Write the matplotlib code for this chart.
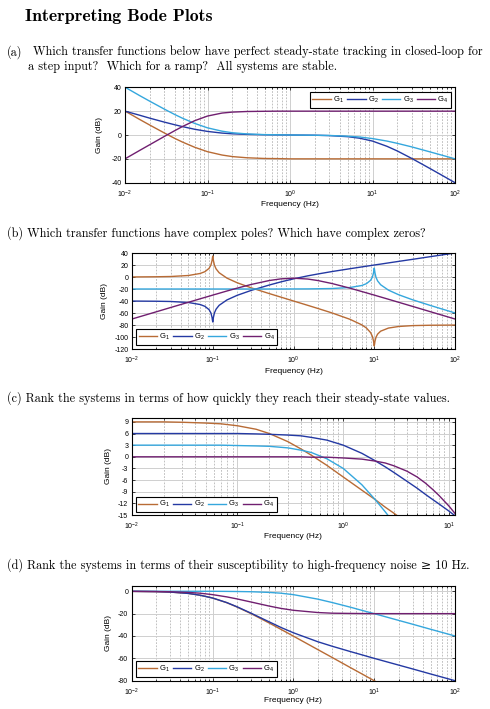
import matplotlib
matplotlib.use("Agg")
import numpy as np
import matplotlib.pyplot as plt
from matplotlib.ticker import LogLocator, NullFormatter

plt.rcParams['font.family'] = 'Liberation Sans'
plt.rcParams['axes.unicode_minus'] = False

# ---- (a) gain curves (dB) ----
f_a = [0.01, 0.015, 0.02, 0.03, 0.04, 0.05, 0.07, 0.1, 0.15, 0.2, 0.3, 0.5, 0.7,
       1, 2, 3, 5, 7, 10, 15, 20, 30, 50, 70, 100]
a_G1 = [20.1, 13.1, 8.3, 1.7, -2.8, -6.0, -10.3, -14.0, -16.8, -18.1, -19.1, -19.7, -19.8,
        -20.0, -20.0, -20.0, -20.0, -20.0, -20.0, -20.0, -20.0, -20.0, -20.0, -20.0, -20.0]
a_G2 = [20.0, 16.6, 14.1, 10.8, 8.6, 7.0, 4.8, 3.0, 1.6, 1.0, 0.5, 0.2, 0.1,
        0.0, -0.2, -0.5, -1.4, -2.7, -5.1, -9.5, -13.4, -19.7, -28.2, -33.9, -40.0]
a_G3 = [40.1, 33.1, 28.3, 21.7, 17.2, 14.0, 9.7, 6.0, 3.2, 1.9, 0.9, 0.3, 0.2,
        0.0, -0.2, -0.4, -1.0, -1.7, -3.0, -5.1, -7.0, -10.0, -14.2, -17.0, -20.0]
a_G4 = [-20.0, -13.0, -8.1, -1.2, 3.6, 7.2, 12.0, 15.9, 18.4, 19.2, 19.7, 19.9, 20.0,
        20.0, 20.0, 20.0, 20.0, 20.0, 20.0, 20.0, 20.0, 20.0, 20.0, 20.0, 20.0]

# ---- (b) ----
f_b = [0.01, 0.02, 0.03, 0.05, 0.07, 0.08, 0.09, 0.095, 0.098, 0.099, 0.1, 0.101, 0.102,
       0.105, 0.11, 0.12, 0.15, 0.2, 0.3, 0.5, 0.7, 1, 1.5, 2, 3, 5, 7, 8, 9, 9.5, 9.8,
       9.9, 10, 10.1, 10.2, 10.5, 11, 12, 15, 20, 30, 50, 100]
b_G1 = [0.1, 0.4, 0.8, 2.5, 5.9, 8.9, 14.4, 20.1, 27.3, 31.5, 34.9, 31.3, 27.1,
        19.6, 13.5, 7.1, -1.9, -9.5, -18.1, -27.6, -33.6, -40.0, -47.2, -52.4, -59.9, -70.5, -79.7, -85.0, -92.6, -99.2, -106.9,
        -111.3, -114.9, -111.5, -107.4, -100.5, -95.2, -90.3, -85.1, -82.5, -81.0, -80.4, -80.1]
b_G2 = [-40.1, -40.4, -40.8, -42.5, -45.9, -48.9, -54.4, -60.1, -67.3, -71.5, -74.9, -71.4, -67.1,
        -59.7, -53.6, -47.2, -38.2, -30.6, -22.3, -13.4, -8.1, -3.1, 1.9, 5.0, 9.1, 13.8, 16.8, 18.0, 19.0, 19.5, 19.8,
        19.9, 20.0, 20.0, 20.1, 20.4, 20.8, 21.5, 23.5, 26.0, 29.5, 34.0, 40.0]
b_G3 = [-20.0, -20.0, -20.0, -20.0, -20.0, -20.0, -20.0, -20.0, -20.0, -20.0, -20.0, -20.0, -20.0,
        -20.0, -20.0, -20.0, -20.0, -20.0, -20.0, -20.0, -20.0, -19.9, -19.8, -19.6, -19.2, -17.5, -14.2, -11.1, -5.6, 0.1, 7.3,
        11.5, 14.9, 11.3, 7.1, -0.4, -6.5, -12.9, -21.9, -29.5, -38.1, -47.6, -59.9]
b_G4 = [-70.0, -58.0, -50.9, -42.1, -36.3, -34.0, -32.0, -31.1, -30.5, -30.4, -30.2, -30.0, -29.8,
        -29.3, -28.6, -27.1, -23.3, -18.6, -12.4, -5.9, -3.1, -2.0, -3.4, -5.9, -10.9, -18.6, -24.2, -26.4, -28.4, -29.3, -29.8,
        -30.0, -30.2, -30.3, -30.5, -31.0, -31.8, -33.3, -37.1, -42.1, -49.1, -58.0, -70.0]

# ---- (c) ----
f_c = [0.01, 0.02, 0.03, 0.05, 0.07, 0.1, 0.15, 0.2, 0.3, 0.4, 0.5, 0.7, 1, 1.5, 2, 2.5,
       3, 4, 5, 6, 7, 8, 10, 11.4]
c_G1 = [9.0, 9.0, 8.9, 8.7, 8.5, 8.0, 7.1, 6.0, 3.9, 2.0, 0.4, -2.2, -5.2, -8.6, -11.0, -13.0,
        -14.5, -17.0, -19.0, -20.5, -21.9, -23.0, -25.0, -26.1]
c_G2 = [6.0, 6.0, 6.0, 6.0, 6.0, 6.0, 5.9, 5.8, 5.6, 5.4, 5.0, 4.3, 3.0, 0.9, -1.0, -2.6,
        -4.0, -6.3, -8.1, -9.7, -11.0, -12.1, -14.0, -15.2]
c_G3 = [3.0, 3.0, 3.0, 3.0, 3.0, 2.9, 2.8, 2.7, 2.3, 1.7, 1.1, -0.5, -3.0, -7.2, -11.0, -14.2,
        -17.0, -21.6, -25.3, -28.4, -31.0, -33.2, -37.1, -39.3]
c_G4 = [0.0, 0.0, 0.0, 0.0, 0.0, 0.0, 0.0, 0.0, 0.0, 0.0, -0.1, -0.1, -0.3, -0.6, -1.1, -1.6,
        -2.3, -3.7, -5.2, -6.8, -8.4, -9.9, -12.7, -14.6]

# ---- (d) ----
f_d = [0.01, 0.02, 0.03, 0.05, 0.07, 0.1, 0.15, 0.2, 0.3, 0.5, 0.7, 1, 2, 3, 5, 7, 10,
       20, 30, 50, 70, 100]
d_G1 = [-0.1, -0.3, -0.7, -1.9, -3.5, -6.0, -10.2, -14.0, -20.0, -28.3, -34.0, -40.1, -52.1,
        -59.1, -68.0, -73.8, -80.0, -92.0, -99.1, -108.0, -113.8, -120.0]
d_G2 = [-0.1, -0.3, -0.7, -1.9, -3.5, -6.0, -10.1, -13.8, -19.6, -27.3, -32.3, -37.1, -45.1,
        -49.1, -53.8, -56.8, -60.0, -66.0, -69.5, -74.0, -76.9, -80.0]
d_G3 = [0.0, 0.0, 0.0, 0.0, 0.0, 0.0, -0.1, -0.2, -0.4, -1.0, -1.7, -3.0, -7.0,
        -10.0, -14.1, -17.0, -20.0, -26.0, -29.5, -34.0, -36.9, -40.0]
d_G4 = [0.0, -0.2, -0.4, -1.0, -1.7, -3.0, -5.0, -6.8, -9.6, -13.2, -15.3, -17.0, -19.0,
        -19.6, -19.8, -19.9, -20.0, -20.0, -20.0, -20.0, -20.0, -20.0]

labels = [r'$\mathregular{G_1}$', r'$\mathregular{G_2}$', r'$\mathregular{G_3}$', r'$\mathregular{G_4}$']
colors = ['#b86b35', '#2439a3', '#35a7dd', '#701f70']

W, H = 490, 709
fig = plt.figure(figsize=(W / 100, H / 100), dpi=100)


def px_rect(left, top, right, bottom):
    return [left / W, 1 - bottom / H, (right - left) / W, (bottom - top) / H]


def bode(rect, freqs, curves, xlim, ylim, yticks, leg_loc, leg_anchor, ylab_x, xlab_y):
    ax = fig.add_axes(rect)
    for vals, c, lab in zip(curves, colors, labels):
        ax.semilogx(freqs, vals, color=c, lw=1.0, label=lab)
    ax.set_xlim(*xlim)
    ax.set_ylim(*ylim)
    ax.set_yticks(yticks)
    ax.xaxis.set_major_locator(LogLocator(base=10, numticks=10))
    ax.xaxis.set_minor_locator(LogLocator(base=10, subs=np.arange(2, 10), numticks=20))
    ax.xaxis.set_minor_formatter(NullFormatter())
    ax.set_axisbelow(True)
    ax.grid(which='major', color='#cfcfcf', lw=0.7, ls='-')
    ax.grid(which='minor', axis='x', color='#a8a8a8', lw=0.5, ls=(0, (2.5, 2.0)))
    ax.tick_params(which='both', direction='in', top=True, right=True, width=0.5,
                   labelsize=5)
    ax.tick_params(axis='x', pad=4)
    ax.tick_params(axis='y', pad=2.5)
    ax.tick_params(which='major', length=2.5)
    ax.tick_params(which='minor', length=1.5)
    for s in ax.spines.values():
        s.set_linewidth(0.8)
    ax.set_ylabel('Gain (dB)', fontsize=6)
    ax.set_xlabel('Frequency (Hz)', fontsize=6)
    ax.yaxis.set_label_coords(ylab_x, 0.5)
    ax.xaxis.set_label_coords(0.5, xlab_y)
    ax.xaxis.label.set_va('center')
    ax.yaxis.label.set_va('center')
    leg = ax.legend(loc=leg_loc, bbox_to_anchor=leg_anchor, ncol=4, fontsize=5.5,
                    handlelength=2.4, handletextpad=0.3, columnspacing=0.45,
                    borderpad=0.35, borderaxespad=0, fancybox=False, framealpha=1)
    leg.get_frame().set_edgecolor('black')
    leg.get_frame().set_linewidth(0.8)
    return ax


bode(px_rect(125, 87.3, 455, 182.7), f_a, [a_G1, a_G2, a_G3, a_G4], (0.01, 100), (-40, 40),
     [-40, -20, 0, 20, 40], 'upper right', (0.988, 0.951), -0.076, -0.23)
bode(px_rect(132, 253, 455, 349), f_b, [b_G1, b_G2, b_G3, b_G4], (0.01, 100), (-120, 40),
     list(range(-120, 41, 20)), 'lower left', (0.012, 0.042), -0.084, -0.23)
bode(px_rect(131.7, 418, 455, 515), f_c, [c_G1, c_G2, c_G3, c_G4], (0.01, 11.4), (-15, 10),
     list(range(-15, 10, 3)), 'lower left', (0.012, 0.03), -0.073, -0.22)
bode(px_rect(131.7, 585.7, 455, 680.7), f_d, [d_G1, d_G2, d_G3, d_G4], (0.01, 100), (-80, 5),
     [-80, -60, -40, -20, 0], 'lower left', (0.012, 0.042), -0.073, -0.21)

serif = ['cmr10', 'DejaVu Serif']
qs = 8.8


def ptext(x, y, s, **kw):
    fig.text(x / W, 1 - y / H, s, va='center', ha='left', **kw)


ptext(25, 17, 'Interpreting Bode Plots', family='cmb10', fontsize=12.8)
ptext(7, 52, '(a)', family=serif, fontsize=qs)
ptext(33, 52, 'Which transfer functions below have perfect steady-state tracking in closed-loop for',
      family=serif, fontsize=qs)
ptext(28, 67, 'a step input?  Which for a ramp?  All systems are stable.', family=serif, fontsize=qs)
ptext(7, 233, '(b) Which transfer functions have complex poles? Which have complex zeros?',
      family=serif, fontsize=qs)
ptext(7, 398, '(c) Rank the systems in terms of how quickly they reach their steady-state values.',
      family=serif, fontsize=qs)
ptext(7, 565, '(d) Rank the systems in terms of their susceptibility to high-frequency noise \u2265 10 Hz.',
      family=serif, fontsize=qs)

fig.savefig('out.png', dpi=100)
